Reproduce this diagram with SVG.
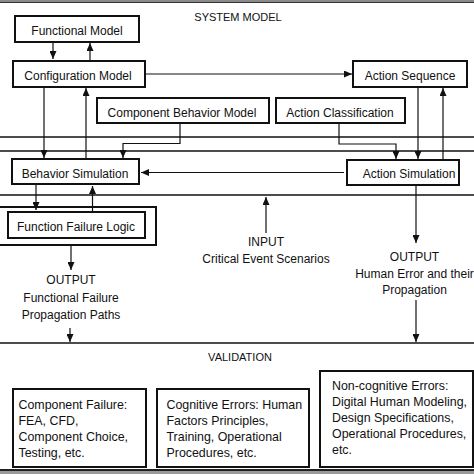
<svg xmlns="http://www.w3.org/2000/svg" width="474" height="474" viewBox="0 0 474 474">
<defs>
<marker id="ah" viewBox="0 0 8 7" refX="8" refY="3.5" markerWidth="8" markerHeight="7" markerUnits="userSpaceOnUse" orient="auto">
<path d="M0,0 L8,3.5 L0,7 z" fill="#111"/>
</marker>
<style>
.box{fill:#fff;stroke:#111;stroke-width:2}
.t{font-family:"Liberation Sans",Arial,sans-serif;font-size:12px;fill:#111}
.b{font-size:12.4px}
.c{text-anchor:middle}
.h{font-size:11px}
.band{stroke:#111;stroke-width:1.5;fill:none}
.cn{stroke:#111;stroke-width:1.2;fill:none}
.ar{marker-end:url(#ah)}
</style>
</defs>
<rect x="0" y="0" width="474" height="474" fill="#fff"/>
<g id="frame">
<rect x="0" y="0" width="474" height="2" fill="#8a8a8a"/>
<line x1="0" y1="2.5" x2="474" y2="2.5" stroke="#333" stroke-width="1"/>
<line class="band" x1="0" y1="137" x2="474" y2="137"/>
<line class="band" x1="0" y1="151" x2="474" y2="151"/>
<line class="band" x1="0" y1="195" x2="474" y2="195"/>
<line class="band" x1="0" y1="343" x2="474" y2="343"/>
<line x1="0" y1="470" x2="474" y2="470" stroke="#222" stroke-width="2"/>
<rect x="0" y="471" width="474" height="3" fill="#9a9a9a"/>
</g>
<g id="labels">
<text class="t c h" x="238" y="21">SYSTEM MODEL</text>
<text class="t c h" x="240" y="361">VALIDATION</text>
</g>
<g id="functional-model">
<rect class="box" x="15" y="16" width="124" height="26"/>
<text class="t c" x="77" y="35">Functional Model</text>
</g>
<g id="configuration-model">
<rect class="box" x="13" y="61" width="132" height="26"/>
<text class="t c" x="78" y="80">Configuration Model</text>
</g>
<g id="action-sequence">
<rect class="box" x="353" y="61" width="114" height="26"/>
<text class="t c" x="410" y="80">Action Sequence</text>
</g>
<g id="component-behavior-model">
<rect class="box" x="97" y="98" width="172" height="25"/>
<text class="t c" x="182" y="117">Component Behavior Model</text>
</g>
<g id="action-classification">
<rect class="box" x="276" y="98" width="129" height="25"/>
<text class="t c" x="340" y="117">Action Classification</text>
</g>
<g id="behavior-simulation">
<rect class="box" x="12" y="159" width="127" height="25"/>
<text class="t c" x="75" y="178">Behavior Simulation</text>
</g>
<g id="action-simulation">
<rect class="box" x="347" y="160" width="112" height="25"/>
<text class="t c" x="409" y="178">Action Simulation</text>
</g>
<g id="function-failure-logic">
<rect class="box" x="-5" y="207" width="161" height="38"/>
<rect class="box" x="8" y="212" width="137" height="26"/>
<text class="t c" x="76" y="231">Function Failure Logic</text>
</g>
<g id="output-functional">
<text class="t c" x="71" y="284">OUTPUT</text>
<text class="t c" x="71" y="302">Functional Failure</text>
<text class="t c" x="71" y="319">Propagation Paths</text>
</g>
<g id="input">
<text class="t c" x="266" y="246">INPUT</text>
<text class="t c" x="266" y="263">Critical Event Scenarios</text>
</g>
<g id="output-human">
<text class="t c" x="414.5" y="261">OUTPUT</text>
<text class="t c" x="414.5" y="278">Human Error and their</text>
<text class="t c" x="414.5" y="294">Propagation</text>
</g>
<g id="component-failure">
<rect class="box" x="13" y="389" width="133" height="78"/>
<text class="t b" x="18.5" y="409">Component Failure:</text>
<text class="t b" x="18.5" y="425">FEA, CFD,</text>
<text class="t b" x="18.5" y="441">Component Choice,</text>
<text class="t b" x="18.5" y="457">Testing, etc.</text>
</g>
<g id="cognitive-errors">
<rect class="box" x="157" y="389" width="152" height="78"/>
<text class="t b" x="166.5" y="409">Cognitive Errors: Human</text>
<text class="t b" x="166.5" y="425">Factors Principles,</text>
<text class="t b" x="166.5" y="441">Training, Operational</text>
<text class="t b" x="166.5" y="457">Procedures, etc.</text>
</g>
<g id="non-cognitive-errors">
<rect class="box" x="320" y="371" width="153" height="96"/>
<text class="t b" x="332" y="390">Non-cognitive Errors:</text>
<text class="t b" x="332" y="406">Digital Human Modeling,</text>
<text class="t b" x="332" y="422">Design Specifications,</text>
<text class="t b" x="332" y="438">Operational Procedures,</text>
<text class="t b" x="332" y="454">etc.</text>
</g>
<g id="connectors">
<line class="cn ar" x1="53" y1="43" x2="53" y2="59"/>
<line class="cn ar" x1="90" y1="60" x2="90" y2="43"/>
<line class="cn ar" x1="146" y1="74" x2="352" y2="74"/>
<line class="cn ar" x1="44" y1="88" x2="44" y2="158"/>
<line class="cn ar" x1="86" y1="158" x2="86" y2="88"/>
<polyline class="cn ar" points="180,124 180,143.5 123,143.5 123,158"/>
<polyline class="cn ar" points="339,124 339,144 396,144 396,159"/>
<line class="cn ar" x1="418" y1="88" x2="418" y2="159"/>
<line class="cn ar" x1="443" y1="159" x2="443" y2="88"/>
<line class="cn ar" x1="344" y1="172.5" x2="141" y2="172.5"/>
<line class="cn ar" x1="36" y1="185" x2="36" y2="210"/>
<line class="cn ar" x1="92.5" y1="211" x2="92.5" y2="186"/>
<line class="cn ar" x1="71" y1="246" x2="71" y2="270"/>
<line class="cn ar" x1="70" y1="328" x2="70" y2="342"/>
<line class="cn ar" x1="266" y1="233" x2="266" y2="197"/>
<line class="cn ar" x1="416" y1="186" x2="416" y2="243"/>
<line class="cn ar" x1="416" y1="300" x2="416" y2="342"/>
</g>
</svg>
